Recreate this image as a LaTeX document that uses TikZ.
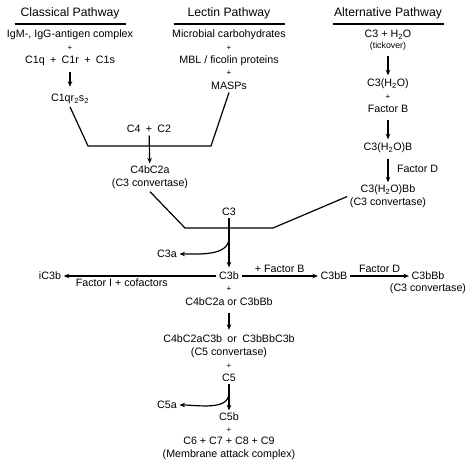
\documentclass[tikz,border=0pt]{standalone}
\usepackage{fontspec}
\setmainfont{Liberation Sans}
\usetikzlibrary{arrows.meta,positioning}

\begin{document}
\begin{tikzpicture}
[x=1pt,y=1pt,>={Stealth[length=5.5pt,width=4.5pt]},
 t/.style={inner sep=2.5pt,font=\fontsize{10.7}{13}\selectfont,align=center},
 h/.style={inner sep=2.5pt,font=\fontsize{12.2}{14}\selectfont},
 p/.style={inner sep=1pt,font=\fontsize{8}{9}\selectfont},
 s/.style={inner sep=2pt,font=\fontsize{8.8}{10}\selectfont},
 l/.style={line width=1.2pt},
 ul/.style={line width=1.5pt}]
\useasboundingbox (0,0) rectangle (474,-474);
% headings
\node[h] (hcl) at (70,-13) {Classical Pathway};
\node[h] (hle) at (229,-13) {Lectin Pathway};
\node[h] (hal) at (388,-13) {Alternative Pathway};
\draw[ul] ([xshift=-55.5pt,yshift=-2.5pt]hcl.south) -- ([xshift=55.5pt,yshift=-2.5pt]hcl.south);
\draw[ul] ([xshift=-55.5pt,yshift=-2.5pt]hle.south) -- ([xshift=55.5pt,yshift=-2.5pt]hle.south);
\draw[ul] ([xshift=-55.5pt,yshift=-2.5pt]hal.south) -- ([xshift=55.5pt,yshift=-2.5pt]hal.south);
% classical
\node[t] (cl1) at (70,-35) {IgM-, IgG-antigen complex};
\node[p] (cl2) at (70,-47.7) {+};
\node[t] (cl3) at (70,-60.7) {C1q\enspace+\enspace C1r\enspace+\enspace C1s};
\node[t] (cl4) at (70,-99.3) {C1qr\textsubscript{2}s\textsubscript{2}};
% lectin
\node[t] (le1) at (229,-35) {Microbial carbohydrates};
\node[p] (le2) at (229,-47.7) {+};
\node[t] (le3) at (229,-60.7) {MBL / ficolin proteins};
\node[p] (le4) at (229,-73) {+};
\node[t] (le5) at (229,-86) {MASPs};
% alternative
\node[t] (al1) at (388,-35) {C3 + H\textsubscript{2}O};
\node[s] (al2) at (388,-46) {(tickover)};
\node[t] (al3) at (388,-84) {C3(H\textsubscript{2}O)};
\node[p] (al4) at (388,-97) {+};
\node[t] (al5) at (388,-109) {Factor B};
\node[t] (al6) at (388,-148) {C3(H\textsubscript{2}O)B};
\node[t] (al7) at (388,-196.5) {C3(H\textsubscript{2}O)Bb\\(C3 convertase)};
% common part
\coordinate (j1) at (88,-146);
\coordinate (j2) at (211,-146);
\node[t] (c4c2) at (149,-129) {C4\enspace+\enspace C2};
\node[t] (cv1) at (150,-177.5) {C4bC2a\\(C3 convertase)};
\coordinate (k1) at (185,-228);
\coordinate (k2) at (273,-228);
\node[t] (c3) at (229,-212) {C3};
\coordinate (b1) at (229,-238);
\node[t] (c3a) at (167,-254) {C3a};
\node[t] (c3b) at (229,-276) {C3b};
\node[p] (c3bp) at (229,-289) {+};
\node[t] (c3bx) at (229,-302) {C4bC2a or C3bBb};
\node[t] (ic3b) at (50,-276) {iC3b};
\node[t] (c3bB) at (334,-276) {C3bB};
\node[t] (c3bBb) at (428,-276) {C3bBb};
\node[t] (c3cv) at (428,-289) {(C3 convertase)};
\node[t] (c5cv) at (229,-346) {C4bC2aC3b\enspace or\enspace C3bBbC3b\\(C5 convertase)};
\node[p] (c5p) at (229,-366) {+};
\node[t] (c5) at (229,-378) {C5};
\coordinate (b2) at (229,-393);
\node[t] (c5a) at (167,-405) {C5a};
\node[t] (c5b) at (229,-417) {C5b};
\node[p] (c5bp) at (229,-430) {+};
\node[t] (mac) at (229,-448.5) {C6 + C7 + C8 + C9\\(Membrane attack complex)};
% connectors
\draw[l] (cl4.south) -- (j1) -- (j2) -- (le5.south);
\draw[l,->,shorten <=4pt,shorten >=5pt] (cl3) -- (cl4);
\draw[l,->] (c4c2) -- (cv1);
\draw[l] (cv1.south) -- (k1) -- (k2) -- (al7.west);
\draw[l,->,shorten <=4pt,shorten >=1pt] (al2) -- (al3);
\draw[l,->,shorten <=5pt,shorten >=1pt] (al5) -- (al6);
\draw[l,->,shorten <=3pt] (al6) -- (al7) node[t,midway,right=6pt] (fd1) {Factor D};
\draw[l,->,shorten >=2pt] (c3) -- (c3b);
\draw[l,->] (b1) to[out=270,in=0,looseness=.9] (c3a);
\draw[l,->] (c3b) -- (ic3b) node[t,pos=.62,below] (fi) {Factor I + cofactors};
\draw[l,->] (c3b) -- (c3bB) node[t,midway,above] (fb) {+ Factor B};
\draw[l,->] (c3bB) -- (c3bBb) node[t,midway,above] (fd2) {Factor D};
\draw[l,->,shorten <=4pt,shorten >=2pt] (c3bx) -- (c5cv);
\draw[l,->] (c5) -- (c5b);
\draw[l,->] (b2) to[out=270,in=0,looseness=.9] (c5a);
\end{tikzpicture}
\end{document}
